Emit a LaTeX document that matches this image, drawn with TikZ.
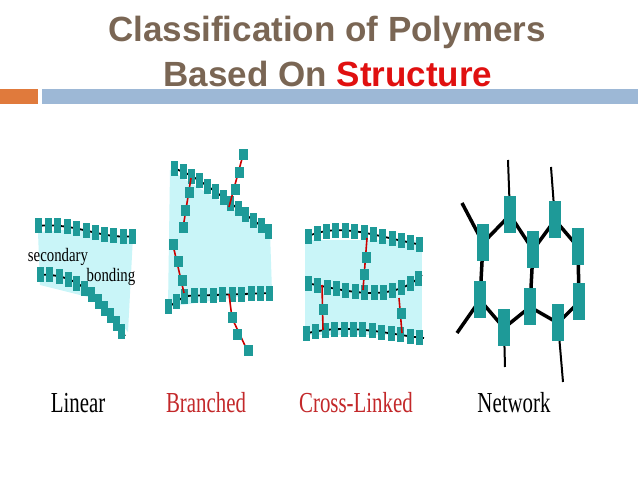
\documentclass[tikz,border=0pt]{standalone}
\usepackage{fontspec}
\setmainfont{Liberation Serif}
\newfontfamily\hd{Liberation Sans}
\usetikzlibrary{decorations.markings}
\definecolor{teal1}{HTML}{1E9A98}
\definecolor{lite}{HTML}{C9F5F8}
\definecolor{brn}{HTML}{7A6654}
\definecolor{bar}{HTML}{9DB8D6}
\definecolor{org}{HTML}{E07A3C}
\definecolor{rd}{HTML}{E01010}
\definecolor{lab}{HTML}{C3282A}
\tikzset{
 mono/.style={fill=teal1,minimum width=7pt,minimum height=15pt,inner sep=0pt},
 bmono/.style={fill=teal1,minimum width=9pt,minimum height=11pt,inner sep=0pt},
 chain/.style={line width=1.8pt,black,postaction={decorate},
   decoration={markings,mark=between positions 0.02 and 1 step 9.5pt with {\node[mono]{};}}},
 link/.style={line width=1.6pt,red!80!black},
 hexrect/.style={fill=teal1,minimum width=12pt,minimum height=37pt,inner sep=0pt},
 bond/.style={line width=3.5pt,black},
 panel/.style={font=\fontsize{29}{30}\selectfont,xscale=0.72},
 ttl/.style={font=\hd\bfseries\fontsize{35}{36}\selectfont,text=brn},
}
\begin{document}
\begin{tikzpicture}[x=1pt,y=-1pt]
\useasboundingbox (0,0) rectangle (638,478);
\fill[white] (0,0) rectangle (638,478);
% title
\node[ttl] (t1) at (327,32) {Classification of Polymers};
\node[ttl] (t2) at (328,74) {Based On \textcolor{rd}{Structure}};
\fill[org] (0,89) rectangle (38,104);
\fill[bar] (42,89) rectangle (638,104);
% Linear
\fill[lite] (38,232) -- (77,229) -- (100,236) -- (133,236) -- (128,332) -- (100,300) -- (40,285) -- cycle;
\draw[chain] (37,226) .. controls (77,222) and (100,240) .. (135,236);
\draw[chain] (38,275) .. controls (80,272) and (100,300) .. (125,336);
\node[font=\fontsize{19}{19}\selectfont,xscale=0.78] (sec) at (58,257) {secondary};
\node[font=\fontsize{19}{19}\selectfont,xscale=0.78] (bon) at (111,277) {bonding};
% Branched
\fill[lite] (170,170) -- (270,232) -- (272,292) -- (168,307) -- cycle;
\draw[chain] (172,168) .. controls (200,175) and (230,205) .. (270,232);
\draw[chain] (167,308) -- (185,296) -- (272,293);
\draw[link] (191,178) -- (183,228);
\foreach \p in {(189,193),(185,211),(183,228)} \node[bmono] at \p {};
\draw[link] (173,245) -- (184,293);
\foreach \p in {(173,245),(178,262),(182,281)} \node[bmono] at \p {};
\draw[link] (229,207) -- (243,155);
\foreach \p in {(235,190),(239,173),(243,155)} \node[bmono] at \p {};
\draw[link] (229,294) -- (232,318) -- (248,352);
\foreach \p in {(232,318),(237,335),(248,351)} \node[bmono] at \p {};
% Cross-linked
\fill[lite] (305,240) rectangle (422,335);
\draw[chain] (306,237) .. controls (340,222) and (370,235) .. (422,245);
\draw[chain] (306,283) .. controls (345,290) and (390,305) .. (422,275);
\draw[chain] (304,334) .. controls (350,322) and (390,335) .. (424,338);
\draw[link] (367,238) -- (363,290);
\foreach \p in {(366,258),(364,275)} \node[bmono] at \p {};
\draw[link] (322,285) -- (323,330);
\node[bmono] at (323,310) {};
\draw[link] (399,298) -- (402,333);
\node[bmono] at (401,314) {};
% Network
\coordinate (d1) at (462,203); \coordinate (d2) at (508,160); \coordinate (d3) at (551,167);
\coordinate (d4) at (457,333); \coordinate (d5) at (505,367); \coordinate (d6) at (563,382);
\draw[bond] (483,243)--(510,215)--(533,250)--(555,220)--(578,247)--(579,302)--(558,323)--(530,307)--(504,328)--(480,300)--(483,243);
\draw[bond] (533,250)--(530,307);
\draw[bond] (483,243)--(d1); \draw[line width=2pt] (510,215)--(d2); \draw[line width=2pt] (555,220)--(d3);
\draw[bond] (480,300)--(d4); \draw[line width=2pt] (504,328)--(d5); \draw[line width=2pt] (558,323)--(d6);
\node[hexrect] (n1) at (483,243) {};
\node[hexrect] (n2) at (510,215) {};
\node[hexrect] (n3) at (533,250) {};
\node[hexrect] (n4) at (555,220) {};
\node[hexrect] (n5) at (578,247) {};
\node[hexrect] (n6) at (480,300) {};
\node[hexrect] (n7) at (504,328) {};
\node[hexrect] (n8) at (530,307) {};
\node[hexrect] (n9) at (558,323) {};
\node[hexrect] (n10) at (579,302) {};
% labels
\node[panel] (l1) at (78,403) {Linear};
\node[panel,text=lab] (l2) at (206,403) {Branched};
\node[panel,text=lab] (l3) at (356,403) {Cross-Linked};
\node[panel] (l4) at (514,403) {Network};
\end{tikzpicture}
\end{document}
